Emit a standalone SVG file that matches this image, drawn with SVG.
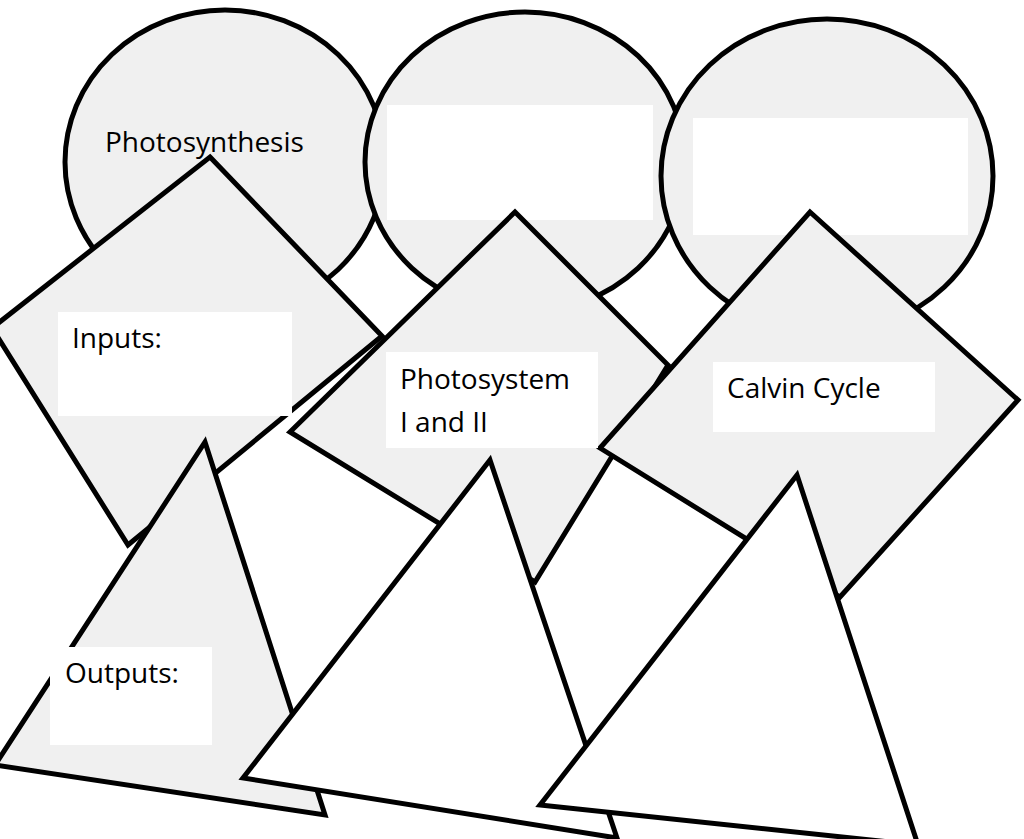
<svg xmlns="http://www.w3.org/2000/svg" width="1024" height="839" viewBox="0 0 1024 839">
<style>
.s{stroke:#000;stroke-width:5;stroke-linejoin:miter}
.g{fill:#f0f0f0}
.w{fill:#fff}
.b{fill:#fff;stroke:none}
text{font-family:"Open Sans","Liberation Sans",sans-serif;font-size:28px;fill:#000}
</style>
<rect width="1024" height="839" fill="#fff"/>
<g id="circle1"><ellipse class="s g" cx="225" cy="162" rx="160" ry="152"/></g>
<g id="circle2"><ellipse class="s g" cx="525" cy="162" rx="160" ry="150"/><rect class="b" x="387" y="105" width="266" height="115"/></g>
<g id="circle3"><ellipse class="s g" cx="827" cy="176" rx="166" ry="157"/><rect class="b" x="693" y="118" width="275" height="117"/></g>
<g id="diamond1"><polygon class="s g" points="210,157 382,336 128,545 -8,328"/></g>
<g id="diamond2"><polygon class="s g" points="515,212 668,365 535,582 290,432"/></g>
<g id="diamond3"><polygon class="s g" points="810,212 1018,400 840,597 600,448"/></g>
<g id="triangle1"><polygon class="s g" points="205,442 325,815 -5,765"/></g>
<g id="triangle2"><polygon class="s w" points="490,460 617,838 243,778"/></g>
<g id="triangle3"><polygon class="s w" points="797,475 918,845 540,805"/></g>
<g id="labels">
<text x="105" y="152" font-size="31">Photosynthesis</text>
<rect class="b" x="58" y="312" width="234" height="104"/><text x="72" y="348">Inputs:</text>
<rect class="b" x="386" y="352" width="212" height="96"/><text x="400" y="389">Photosystem</text><text x="400" y="432">I and II</text>
<rect class="b" x="713" y="362" width="222" height="70"/><text x="727" y="398">Calvin Cycle</text>
<rect class="b" x="50" y="647" width="162" height="98"/><text x="65" y="683">Outputs:</text>
</g>
</svg>
